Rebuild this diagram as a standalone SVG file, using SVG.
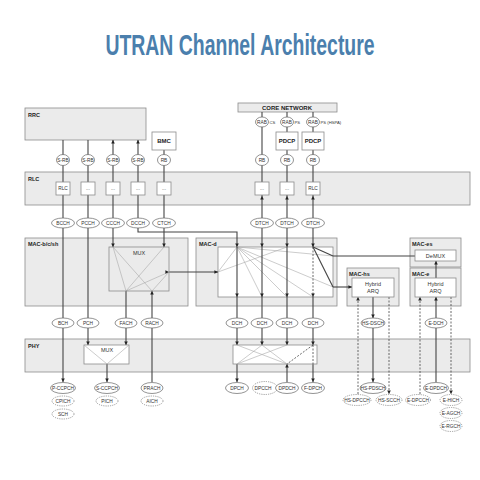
<svg xmlns="http://www.w3.org/2000/svg" width="480" height="480" viewBox="0 0 480 480">
<defs>
<marker id="ah" viewBox="0 0 6 6" refX="6" refY="3" markerWidth="3.6" markerHeight="3.6" markerUnits="userSpaceOnUse" orient="auto"><path d="M0,0 L6,3 L0,6 z" fill="#222"/></marker>
<style>
.band{fill:#ebebeb;stroke:#8c8c8c;stroke-width:0.8}
.wbox{fill:#fff;stroke:#8c8c8c;stroke-width:0.8}
.ln{fill:none;stroke:#444;stroke-width:1.1}
.dl{fill:none;stroke:#444;stroke-width:0.8;stroke-dasharray:2,1.5}
.gl{fill:none;stroke:#aaa;stroke-width:0.6}
.ch{fill:#fff;stroke:#666;stroke-width:0.7}
.chd{fill:#fff;stroke:#777;stroke-width:0.7;stroke-dasharray:1.2,1}
.lb{font-family:"Liberation Sans",Arial,sans-serif;font-weight:bold;font-size:5.5px;fill:#222}
.bl{font-family:"Liberation Sans",Arial,sans-serif;font-weight:bold;font-size:6px;fill:#222;text-anchor:middle}
.t{font-family:"Liberation Sans",Arial,sans-serif;font-size:4.8px;fill:#333;text-anchor:middle}
.ts{font-family:"Liberation Sans",Arial,sans-serif;font-size:4.2px;fill:#333}
.tm{font-family:"Liberation Sans",Arial,sans-serif;font-size:5.5px;fill:#333;text-anchor:middle}
</style>
</defs>
<rect width="480" height="480" fill="#fff"/>
<text transform="translate(240,55) scale(0.648,1)" x="0" y="0" font-family="'Liberation Sans',Arial,sans-serif" font-weight="bold" font-size="30" fill="#4b7fad" text-anchor="middle">UTRAN Channel Architecture</text>

<g id="layers">
<g id="rrc"><rect class="band" x="25" y="108" width="121" height="32"/><text class="lb" x="28" y="117">RRC</text></g>
<g id="core-network"><rect class="band" x="238" y="103" width="99" height="9"/><text class="bl" x="287" y="110" font-size="5.5">CORE NETWORK</text></g>
<g id="rlc"><rect class="band" x="25" y="172" width="445" height="33"/><text class="lb" x="28" y="181">RLC</text></g>
<g id="mac-bcsh"><rect class="band" x="25" y="238" width="163" height="68"/><text class="lb" x="28" y="246">MAC-b/c/sh</text></g>
<g id="mac-d"><rect class="band" x="196" y="238" width="141" height="68"/><text class="lb" x="199" y="246">MAC-d</text><rect class="wbox" x="218" y="247" width="115" height="50"/></g>
<g id="mac-es"><rect class="band" x="410" y="238" width="51" height="29"/><text class="lb" x="412" y="246">MAC-es</text></g>
<g id="mac-e"><rect class="band" x="410" y="268" width="51" height="38"/><text class="lb" x="412" y="276">MAC-e</text></g>
<g id="mac-hs"><rect class="band" x="347" y="268" width="52" height="38"/><text class="lb" x="349" y="276">MAC-hs</text></g>
<g id="phy"><rect class="band" x="25" y="339" width="445" height="33"/><text class="lb" x="28" y="348">PHY</text></g>
</g>

<g id="connectors">
<line class="ln" x1="63" y1="140" x2="63" y2="218"/>
<line class="ln" x1="88" y1="140" x2="88" y2="218"/>
<line class="ln" x1="113" y1="218" x2="113" y2="140" marker-end="url(#ah)"/>
<line class="ln" x1="138" y1="218" x2="138" y2="140" marker-end="url(#ah)"/>
<line class="ln" x1="164" y1="150" x2="164" y2="218"/>
<line class="ln" x1="262" y1="112" x2="262" y2="196"/>
<line class="ln" x1="287" y1="112" x2="287" y2="196"/>
<line class="ln" x1="313" y1="112" x2="313" y2="196"/>
<line class="ln" x1="262" y1="218" x2="262" y2="196" marker-end="url(#ah)"/>
<line class="ln" x1="287" y1="218" x2="287" y2="196" marker-end="url(#ah)"/>
<line class="ln" x1="313" y1="218" x2="313" y2="196" marker-end="url(#ah)"/>
<line class="ln" x1="63" y1="228" x2="63" y2="318"/>
<line class="ln" x1="88" y1="228" x2="88" y2="318"/>
<line class="ln" x1="113" y1="228" x2="113" y2="247" marker-end="url(#ah)"/>
<line class="ln" x1="164" y1="228" x2="164" y2="247" marker-end="url(#ah)"/>
<polyline class="ln" points="138,228 138,232 237,232 237,247" marker-end="url(#ah)"/>
<line class="ln" x1="262" y1="228" x2="262" y2="247" marker-end="url(#ah)"/>
<line class="ln" x1="287" y1="228" x2="287" y2="247" marker-end="url(#ah)"/>
<line class="ln" x1="313" y1="228" x2="313" y2="247" marker-end="url(#ah)"/>
<g class="gl" stroke="#555">
<line x1="113" y1="247" x2="126" y2="291"/>
<line x1="113" y1="247" x2="152" y2="291"/>
<line x1="164" y1="247" x2="126" y2="291"/>
<line x1="169" y1="272" x2="126" y2="291"/>
<line x1="169" y1="272" x2="152" y2="291"/>
</g>
<line class="ln" x1="169" y1="272" x2="218" y2="272" marker-start="url(#ah)" marker-end="url(#ah)"/>
<line class="ln" x1="126" y1="291" x2="126" y2="318"/>
<line class="ln" x1="152" y1="318" x2="152" y2="291" marker-end="url(#ah)"/>
<g class="gl">
<line x1="237" y1="247" x2="218" y2="272"/>
<line x1="237" y1="247" x2="262" y2="297"/>
<line x1="237" y1="247" x2="287" y2="297"/>
<line x1="237" y1="247" x2="313" y2="297"/>
<line x1="237" y1="247" x2="333" y2="287"/>
<line x1="237" y1="247" x2="333" y2="256"/>
<line x1="218" y1="272" x2="287" y2="247"/>
</g>
<line class="ln" x1="237" y1="247" x2="237" y2="297" marker-end="url(#ah)"/>
<line class="ln" x1="262" y1="247" x2="262" y2="297" marker-end="url(#ah)"/>
<line class="ln" x1="287" y1="247" x2="287" y2="297" marker-end="url(#ah)"/>
<line class="dl" x1="313" y1="247" x2="313" y2="297" marker-end="url(#ah)"/>
<line class="ln" x1="313" y1="247" x2="333" y2="256"/>
<line class="ln" x1="313" y1="247" x2="333" y2="287"/>
<line class="ln" x1="333" y1="256" x2="415" y2="256"/>
<line class="ln" x1="333" y1="287" x2="352" y2="287" marker-end="url(#ah)"/>
<line class="ln" x1="436" y1="278" x2="436" y2="261" marker-end="url(#ah)"/>
<line class="ln" x1="237" y1="297" x2="237" y2="318"/>
<line class="ln" x1="262" y1="297" x2="262" y2="318"/>
<line class="ln" x1="287" y1="297" x2="287" y2="318"/>
<line class="ln" x1="313" y1="297" x2="313" y2="318"/>
<line class="ln" x1="63" y1="328" x2="63" y2="382" marker-end="url(#ah)"/>
<line class="ln" x1="88" y1="328" x2="88" y2="345" marker-end="url(#ah)"/>
<line class="ln" x1="126" y1="328" x2="126" y2="345" marker-end="url(#ah)"/>
<line class="ln" x1="107" y1="364" x2="107" y2="382" marker-end="url(#ah)"/>
<line class="ln" x1="152" y1="382" x2="152" y2="328"/>
<line class="ln" x1="237" y1="328" x2="237" y2="345" marker-end="url(#ah)"/>
<line class="ln" x1="262" y1="328" x2="262" y2="345" marker-end="url(#ah)"/>
<line class="ln" x1="287" y1="328" x2="287" y2="345" marker-end="url(#ah)"/>
<line class="ln" x1="313" y1="328" x2="313" y2="345" marker-end="url(#ah)"/>
<line class="ln" x1="237" y1="364" x2="237" y2="382" marker-end="url(#ah)"/>
<line class="ln" x1="287" y1="382" x2="287" y2="364" marker-end="url(#ah)"/>
<line class="ln" x1="313" y1="364" x2="313" y2="382" marker-end="url(#ah)"/>
<line class="dl" x1="358" y1="394" x2="358" y2="297" marker-end="url(#ah)"/>
<line class="ln" x1="373" y1="297" x2="373" y2="318" marker-end="url(#ah)"/>
<line class="ln" x1="373" y1="328" x2="373" y2="382" marker-end="url(#ah)"/>
<line class="dl" x1="389" y1="297" x2="389" y2="394" marker-end="url(#ah)"/>
<line class="dl" x1="420" y1="394" x2="420" y2="297" marker-end="url(#ah)"/>
<line class="ln" x1="436" y1="318" x2="436" y2="297" marker-end="url(#ah)"/>
<line class="ln" x1="436" y1="382" x2="436" y2="328"/>
<line class="dl" x1="451" y1="297" x2="451" y2="394" marker-end="url(#ah)"/>
</g>

<g id="nodes">
<g id="bmc"><rect class="wbox" x="152" y="132" width="24" height="18"/><text class="bl" x="164" y="143">BMC</text></g>
<g id="pdcp1"><rect class="wbox" x="276" y="132" width="22" height="18"/><text class="bl" x="287" y="143">PDCP</text></g>
<g id="pdcp2"><rect class="wbox" x="302" y="132" width="22" height="18"/><text class="bl" x="313" y="143">PDCP</text></g>
<g id="rab">
<ellipse class="ch" cx="262" cy="122" rx="6.5" ry="5"/><text class="t" x="262" y="123.7">RAB</text><text class="ts" x="269.5" y="123.5">CS</text>
<ellipse class="ch" cx="287" cy="122" rx="6.5" ry="5"/><text class="t" x="287" y="123.7">RAB</text><text class="ts" x="294.5" y="123.5">PS</text>
<ellipse class="ch" cx="313" cy="122" rx="6.5" ry="5"/><text class="t" x="313" y="123.7">RAB</text><text class="ts" x="320.5" y="123.5">PS (HSPA)</text>
</g>
<g id="srb">
<ellipse class="ch" cx="63" cy="160" rx="6.5" ry="5.5"/><text class="t" x="63" y="161.7">S-RB</text>
<ellipse class="ch" cx="88" cy="160" rx="6.5" ry="5.5"/><text class="t" x="88" y="161.7">S-RB</text>
<ellipse class="ch" cx="113" cy="160" rx="6.5" ry="5.5"/><text class="t" x="113" y="161.7">S-RB</text>
<ellipse class="ch" cx="138" cy="160" rx="6.5" ry="5.5"/><text class="t" x="138" y="161.7">S-RB</text>
<ellipse class="ch" cx="164" cy="160" rx="6.5" ry="5.5"/><text class="t" x="164" y="161.7">RB</text>
<ellipse class="ch" cx="262" cy="160" rx="6.5" ry="5.5"/><text class="t" x="262" y="161.7">RB</text>
<ellipse class="ch" cx="287" cy="160" rx="6.5" ry="5.5"/><text class="t" x="287" y="161.7">RB</text>
<ellipse class="ch" cx="313" cy="160" rx="6.5" ry="5.5"/><text class="t" x="313" y="161.7">RB</text>
</g>
<g id="rlc-entities">
<rect class="wbox" x="56" y="182" width="14" height="13"/><text class="t" x="63" y="190">RLC</text>
<rect class="wbox" x="81" y="182" width="14" height="13"/><text class="t" x="88" y="190">...</text>
<rect class="wbox" x="106" y="182" width="14" height="13"/><text class="t" x="113" y="190">...</text>
<rect class="wbox" x="131" y="182" width="14" height="13"/><text class="t" x="138" y="190">...</text>
<rect class="wbox" x="157" y="182" width="14" height="13"/><text class="t" x="164" y="190">...</text>
<rect class="wbox" x="255" y="182" width="14" height="13"/><text class="t" x="262" y="190">...</text>
<rect class="wbox" x="280" y="182" width="14" height="13"/><text class="t" x="287" y="190">...</text>
<rect class="wbox" x="306" y="182" width="14" height="13"/><text class="t" x="313" y="190">RLC</text>
</g>
<g id="logical-channels">
<ellipse class="ch" cx="63" cy="223" rx="11.5" ry="5"/><text class="t" x="63" y="224.7">BCCH</text>
<ellipse class="ch" cx="88" cy="223" rx="11.5" ry="5"/><text class="t" x="88" y="224.7">PCCH</text>
<ellipse class="ch" cx="113" cy="223" rx="11.5" ry="5"/><text class="t" x="113" y="224.7">CCCH</text>
<ellipse class="ch" cx="138" cy="223" rx="11.5" ry="5"/><text class="t" x="138" y="224.7">DCCH</text>
<ellipse class="ch" cx="164" cy="223" rx="11.5" ry="5"/><text class="t" x="164" y="224.7">CTCH</text>
<ellipse class="ch" cx="262" cy="223" rx="11.5" ry="5"/><text class="t" x="262" y="224.7">DTCH</text>
<ellipse class="ch" cx="287" cy="223" rx="11.5" ry="5"/><text class="t" x="287" y="224.7">DTCH</text>
<ellipse class="ch" cx="313" cy="223" rx="11.5" ry="5"/><text class="t" x="313" y="224.7">DTCH</text>
</g>
<g id="mux-mac"><rect class="wbox" x="109" y="247" width="60" height="44" fill-opacity="0"/><text class="tm" x="139" y="255">MUX</text></g>
<g id="demux"><rect class="wbox" x="415" y="250" width="41" height="11"/><text class="tm" x="435.5" y="257.5">DeMUX</text></g>
<g id="harq-hs"><rect class="wbox" x="352" y="278" width="42" height="19"/><text class="tm" x="373" y="285.5">Hybrid</text><text class="tm" x="373" y="292.5">ARQ</text></g>
<g id="harq-e"><rect class="wbox" x="415" y="278" width="41" height="19"/><text class="tm" x="435.5" y="285.5">Hybrid</text><text class="tm" x="435.5" y="292.5">ARQ</text></g>
<g id="transport-channels">
<ellipse class="ch" cx="63" cy="323" rx="11" ry="5"/><text class="t" x="63" y="324.7">BCH</text>
<ellipse class="ch" cx="88" cy="323" rx="11" ry="5"/><text class="t" x="88" y="324.7">PCH</text>
<ellipse class="ch" cx="126" cy="323" rx="11" ry="5"/><text class="t" x="126" y="324.7">FACH</text>
<ellipse class="ch" cx="152" cy="323" rx="11" ry="5"/><text class="t" x="152" y="324.7">RACH</text>
<ellipse class="ch" cx="237" cy="323" rx="11" ry="5"/><text class="t" x="237" y="324.7">DCH</text>
<ellipse class="ch" cx="262" cy="323" rx="11" ry="5"/><text class="t" x="262" y="324.7">DCH</text>
<ellipse class="ch" cx="287" cy="323" rx="11" ry="5"/><text class="t" x="287" y="324.7">DCH</text>
<ellipse class="ch" cx="313" cy="323" rx="11" ry="5"/><text class="t" x="313" y="324.7">DCH</text>
<ellipse class="ch" cx="373" cy="323" rx="12" ry="5"/><text class="t" x="373" y="324.7">HS-DSCH</text>
<ellipse class="ch" cx="436" cy="323" rx="11" ry="5"/><text class="t" x="436" y="324.7">E-DCH</text>
</g>
<g id="phy-mux"><rect class="wbox" x="84" y="345" width="45" height="19"/><polyline class="gl" stroke="#555" points="84,345 107,364 129,345"/><text class="tm" x="107" y="352">MUX</text></g>
<g id="phy-dch"><rect class="wbox" x="233" y="345" width="84" height="19"/>
<g class="gl" stroke="#555"><line x1="237" y1="345" x2="287" y2="364"/><line x1="262" y1="345" x2="237" y2="364"/><line x1="262" y1="345" x2="287" y2="364"/><line x1="287" y1="345" x2="237" y2="364"/></g>
<line class="dl" x1="313" y1="345" x2="287" y2="364" stroke="#999" stroke-width="0.6"/><line class="dl" x1="313" y1="345" x2="313" y2="364" stroke="#999" stroke-width="0.6"/></g>
<g id="physical-channels">
<ellipse class="ch" cx="63" cy="388" rx="12.5" ry="5.5"/><text class="t" x="63" y="389.7">P-CCPCH</text>
<ellipse class="chd" cx="63" cy="401" rx="11" ry="5"/><text class="t" x="63" y="402.7">CPICH</text>
<ellipse class="chd" cx="63" cy="414" rx="11" ry="5"/><text class="t" x="63" y="415.7">SCH</text>
<ellipse class="ch" cx="107" cy="388" rx="12.5" ry="5.5"/><text class="t" x="107" y="389.7">S-CCPCH</text>
<ellipse class="chd" cx="107" cy="401" rx="11" ry="5"/><text class="t" x="107" y="402.7">PICH</text>
<ellipse class="ch" cx="152" cy="388" rx="11" ry="5.5"/><text class="t" x="152" y="389.7">PRACH</text>
<ellipse class="chd" cx="152" cy="401" rx="11" ry="5"/><text class="t" x="152" y="402.7">AICH</text>
<ellipse class="ch" cx="237" cy="388" rx="11.5" ry="5.5"/><text class="t" x="237" y="389.7">DPCH</text>
<ellipse class="chd" cx="265" cy="388" rx="12.5" ry="6.5"/><text class="t" x="263" y="389.7">DPCCH</text>
<ellipse class="ch" cx="287" cy="388" rx="11.5" ry="5.5"/><text class="t" x="287" y="389.7">DPDCH</text>
<ellipse class="ch" cx="313" cy="388" rx="11.5" ry="5.5"/><text class="t" x="313" y="389.7">F-DPCH</text>
<ellipse class="ch" cx="373" cy="388" rx="13" ry="5.5"/><text class="t" x="373" y="389.7">HS-PDSCH</text>
<ellipse class="chd" cx="357" cy="400" rx="14" ry="5.5"/><text class="t" x="357" y="401.7">HS-DPCCH</text>
<ellipse class="chd" cx="389" cy="400" rx="13" ry="5.5"/><text class="t" x="389" y="401.7">HS-SCCH</text>
<ellipse class="ch" cx="436" cy="388" rx="12.5" ry="5.5"/><text class="t" x="436" y="389.7">E-DPDCH</text>
<ellipse class="chd" cx="418" cy="400" rx="12.5" ry="5.5"/><text class="t" x="418" y="401.7">E-DPCCH</text>
<ellipse class="chd" cx="451" cy="400" rx="11" ry="5.5"/><text class="t" x="451" y="401.7">E-HICH</text>
<ellipse class="chd" cx="451" cy="413" rx="11" ry="5.5"/><text class="t" x="451" y="414.7">E-AGCH</text>
<ellipse class="chd" cx="451" cy="426" rx="11" ry="5.5"/><text class="t" x="451" y="427.7">E-RGCH</text>
</g>
</g>
</svg>
